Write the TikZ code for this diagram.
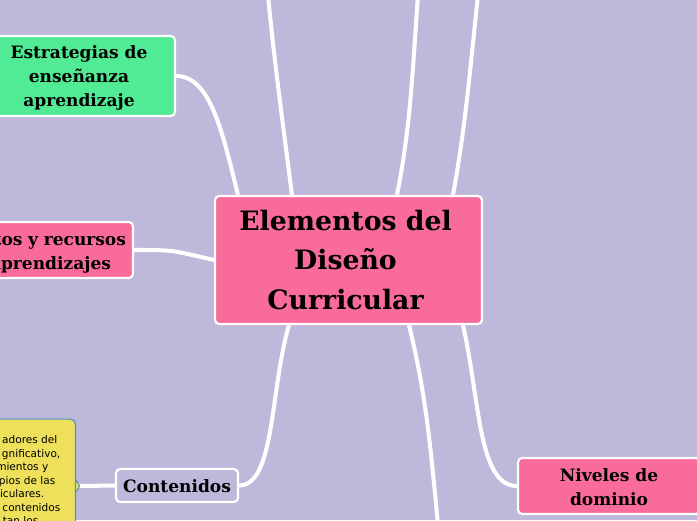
\documentclass[tikz,border=0pt]{standalone}
\usepackage{fontspec}
\setmainfont{DejaVu Serif}
\newfontfamily\notefont{DejaVu Sans}
\usetikzlibrary{backgrounds}
\definecolor{fondo}{HTML}{BEB8DB}
\definecolor{rosa}{HTML}{F86B9B}
\definecolor{verde}{HTML}{50EB94}
\definecolor{nota}{HTML}{EEE05A}
\definecolor{notaborde}{HTML}{4A93C8}
\newcommand{\finlinea}[1]{\kern#1cm\relax}
\newcommand{\bajar}[1]{\rule{0pt}{#1cm}}
\tikzset{
  tema/.style={draw=white,line width=0.6pt,rounded corners=1.2pt,align=center,inner sep=0pt,text=black},
  letra/.style={font=\bfseries\fontsize{4.85}{6.8}\selectfont},
  rama/.style={draw=white,line width=1.15pt},
}
\begin{document}
\begin{tikzpicture}
  \clip (0,0) rectangle (6.97,5.2);

  % Ramas libres
  \coordinate (arriba1) at (2.68,5.25);
  \coordinate (arriba2) at (4.18,5.25);
  \coordinate (arriba3) at (4.78,5.25);
  \coordinate (abajo1) at (4.38,-0.05);

  % Nodos
  \node[tema,fill=rosa,minimum width=2.67cm,minimum height=1.28cm,font=\bfseries\fontsize{7.6}{11.3}\selectfont] (raiz) at (3.485,2.6) {Elementos del\finlinea{0.06}\\Diseño\finlinea{0.06}\\Curricular\finlinea{0.06}};
  \node[tema,letra,fill=verde,minimum width=1.92cm,minimum height=0.8cm] (estrategias) at (0.79,4.44) {\bajar{0.17}Estrategias de\\enseñanza\\aprendizaje};
  \node[tema,letra,fill=rosa,text width=1.7cm,align=right,minimum height=0.56cm,anchor=east] (recursos) at (1.34,2.7) {\bajar{0.18}tos y recursos\finlinea{0.07}\\aprendizajes\finlinea{0.22}};
  \node[tema,letra,fill=fondo,minimum width=1.22cm,minimum height=0.33cm] (contenidos) at (1.77,0.345) {\bajar{0.15}Contenidos};
  \node[tema,letra,fill=rosa,minimum width=1.82cm,minimum height=0.56cm] (niveles) at (6.09,0.34) {\bajar{0.15}Niveles de\\dominio};
  \node[draw=notaborde,fill=nota,line width=0.3pt,rounded corners=1.5pt,anchor=north east,minimum width=1.2cm,minimum height=1.34cm,inner sep=0pt] (nota) at (0.76,1.015) {};
  \fill[nota] ([yshift=0.06cm]nota.east) -- ([xshift=0.035cm]nota.east) -- ([yshift=-0.06cm]nota.east) -- cycle;
  \draw[notaborde,line width=0.3pt] ([yshift=0.06cm]nota.east) -- ([xshift=0.035cm]nota.east) -- ([yshift=-0.06cm]nota.east);
  \node[anchor=north east,align=right,font=\notefont\fontsize{3}{3.85}\selectfont,inner sep=0pt] (notatexto) at (0.61,0.85) {adores del\finlinea{0.03}\\gnificativo,\\mientos y\finlinea{0.12}\\pios de las\finlinea{0.05}\\riculares.\finlinea{0.16}\\contenidos\\tan los\finlinea{0.22}};

  % Conexiones
  \begin{scope}[on background layer]
    \fill[fondo] (0,0) rectangle (6.97,5.2);
    \draw[rama] (arriba1) .. controls (2.74,4.6) and (2.85,3.8) .. ([xshift=0.78cm]raiz.north west);
    \draw[rama] (arriba2) .. controls (4.12,4.4) and (4.1,3.9) .. ([xshift=1.83cm]raiz.north west);
    \draw[rama] (arriba3) .. controls (4.7,4.5) and (4.65,3.9) .. ([xshift=2.39cm]raiz.north west);
    \draw[rama] (estrategias.east) .. controls (2.1,4.44) and (2.22,3.9) .. ([xshift=0.24cm]raiz.north west);
    \draw[rama] (recursos.east) .. controls (1.75,2.7) and (1.7,2.7) .. (raiz.west);
    \draw[rama] ([xshift=0.75cm]raiz.south west) .. controls (2.7,1.3) and (2.75,0.345) .. (contenidos.east);
    \draw[rama] (contenidos.west) -- (nota.east);
    \draw[rama] ([xshift=1.95cm]raiz.south west) .. controls (4.25,1.3) and (4.3,0.8) .. (abajo1);
    \draw[rama] ([xshift=2.49cm]raiz.south west) .. controls (4.8,1.2) and (4.78,0.34) .. (niveles.west);
  \end{scope}
\end{tikzpicture}
\end{document}
